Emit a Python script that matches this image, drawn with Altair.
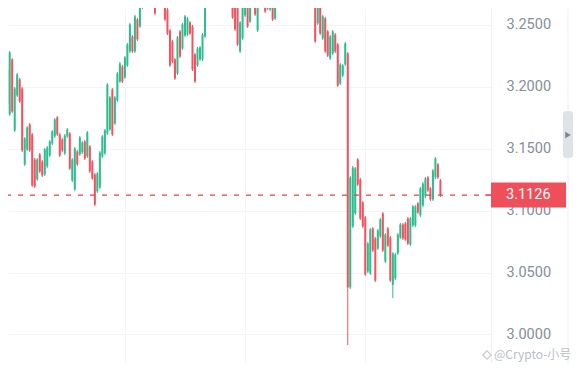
import altair as alt
import pandas as pd

# ---- candle data ----
highs = [3.2258, 3.2153, 3.2290, 3.2233, 3.1999, 3.2112, 3.2072, 3.1999, 3.1595, 3.1684,
         3.1708, 3.1627, 3.1425, 3.1425, 3.1466, 3.1409, 3.1506, 3.1522, 3.1571, 3.1652,
         3.1749, 3.1765, 3.1627, 3.1587, 3.1619, 3.1668, 3.1635, 3.1425, 3.1514, 3.1490,
         3.1603, 3.1563, 3.1571, 3.1644, 3.1530, 3.1409, 3.1304, 3.1312, 3.1482, 3.1611,
         3.1660, 3.2031, 3.1926, 3.1991, 3.1926, 3.2120, 3.2201, 3.2177, 3.2250, 3.2355,
         3.2516, 3.2419, 3.2581, 3.2557, 3.2678, 3.2767, 3.2880, 3.2920, 3.2890, 3.2840,
         3.2800, 3.2790, 3.2810, 3.2790, 3.2770, 3.2637, 3.2468, 3.2379, 3.2233, 3.2411,
         3.2460, 3.2516, 3.2581, 3.2565, 3.2532, 3.2500, 3.2274, 3.2322, 3.2330, 3.2435,
         3.2760, 3.2840, 3.2900, 3.2850, 3.2950, 3.3000, 3.3020, 3.2980, 3.2960, 3.2930,
         3.2900, 3.2800, 3.2780, 3.2750, 3.2532, 3.2790, 3.2830, 3.2810, 3.2820, 3.2860,
         3.2830, 3.2810, 3.2860, 3.2920, 3.2810, 3.2800, 3.2810, 3.2780, 3.2790, 3.2870,
         3.2950, 3.3000, 3.3050, 3.3080, 3.3060, 3.3100, 3.3070, 3.3040, 3.3010, 3.2990,
         3.2960, 3.2930, 3.2900, 3.2880, 3.2790, 3.2760, 3.2740, 3.2581, 3.2565, 3.2460,
         3.2419, 3.2460, 3.2435, 3.2355, 3.2193, 3.2185, 3.2363, 3.2282, 3.1280, 3.1361,
         3.1353, 3.1425, 3.1264, 3.1078, 3.0957, 3.0747, 3.0860, 3.0868, 3.0787, 3.0852,
         3.0941, 3.0989, 3.0819, 3.0868, 3.0795, 3.0666, 3.0658, 3.0819, 3.0900, 3.0900,
         3.0908, 3.0949, 3.0949, 3.1046, 3.1046, 3.1070, 3.1191, 3.1231, 3.1272, 3.1280,
         3.1191, 3.1336, 3.1433, 3.1385, 3.1256]

lows = [3.1999, 3.1854, 3.1765, 3.1789, 3.1635, 3.1918, 3.1870, 3.1474, 3.1361, 3.1482,
        3.1474, 3.1191, 3.1183, 3.1240, 3.1304, 3.1272, 3.1280, 3.1345, 3.1433, 3.1530,
        3.1587, 3.1603, 3.1433, 3.1474, 3.1450, 3.1587, 3.1328, 3.1231, 3.1159, 3.1361,
        3.1442, 3.1458, 3.1409, 3.1425, 3.1304, 3.1248, 3.1037, 3.1143, 3.1175, 3.1425,
        3.1450, 3.1611, 3.1644, 3.1603, 3.1692, 3.1878, 3.2031, 3.2031, 3.2064, 3.2161,
        3.2274, 3.2274, 3.2274, 3.2371, 3.2476, 3.2629, 3.2750, 3.2780, 3.2740, 3.2654,
        3.2581, 3.2637, 3.2645, 3.2645, 3.2532, 3.2419, 3.2161, 3.2193, 3.2056, 3.2096,
        3.2233, 3.2298, 3.2403, 3.2411, 3.2419, 3.2128, 3.2031, 3.2161, 3.2209, 3.2209,
        3.2395, 3.2694, 3.2760, 3.2678, 3.2780, 3.2840, 3.2860, 3.2820, 3.2790, 3.2760,
        3.2740, 3.2548, 3.2452, 3.2330, 3.2274, 3.2379, 3.2565, 3.2476, 3.2516, 3.2670,
        3.2573, 3.2443, 3.2670, 3.2760, 3.2597, 3.2621, 3.2613, 3.2532, 3.2540, 3.2678,
        3.2770, 3.2820, 3.2870, 3.2900, 3.2880, 3.2910, 3.2890, 3.2860, 3.2830, 3.2800,
        3.2780, 3.2760, 3.2740, 3.2730, 3.2355, 3.2500, 3.2419, 3.2379, 3.2274, 3.2241,
        3.2217, 3.2258, 3.2274, 3.1999, 3.2015, 3.2080, 3.2169, 2.9914, 3.0367, 3.0860,
        3.0965, 3.1199, 3.0924, 3.0860, 3.0472, 3.0496, 3.0480, 3.0666, 3.0423, 3.0682,
        3.0779, 3.0666, 3.0577, 3.0706, 3.0423, 3.0294, 3.0440, 3.0642, 3.0771, 3.0763,
        3.0755, 3.0722, 3.0714, 3.0868, 3.0868, 3.0973, 3.0949, 3.1029, 3.1102, 3.1151,
        3.1078, 3.1078, 3.1256, 3.1256, 3.1110]

opens = [3.2246, 3.2141, 3.1777, 3.2221, 3.1647, 3.1930, 3.2060, 3.1987, 3.1373, 3.1494,
         3.1696, 3.1615, 3.1413, 3.1252, 3.1454, 3.1397, 3.1292, 3.1357, 3.1445, 3.1542,
         3.1599, 3.1753, 3.1615, 3.1575, 3.1462, 3.1599, 3.1623, 3.1243, 3.1171, 3.1478,
         3.1454, 3.1470, 3.1559, 3.1437, 3.1518, 3.1397, 3.1292, 3.1155, 3.1187, 3.1437,
         3.1462, 3.1623, 3.1656, 3.1979, 3.1704, 3.1890, 3.2043, 3.2165, 3.2076, 3.2173,
         3.2286, 3.2407, 3.2286, 3.2545, 3.2488, 3.2641, 3.2762, 3.2908, 3.2878, 3.2828,
         3.2788, 3.2649, 3.2798, 3.2778, 3.2758, 3.2625, 3.2456, 3.2367, 3.2221, 3.2108,
         3.2448, 3.2310, 3.2415, 3.2423, 3.2520, 3.2488, 3.2262, 3.2173, 3.2221, 3.2221,
         3.2407, 3.2706, 3.2888, 3.2690, 3.2792, 3.2852, 3.3008, 3.2968, 3.2802, 3.2918,
         3.2888, 3.2788, 3.2768, 3.2738, 3.2286, 3.2391, 3.2577, 3.2798, 3.2528, 3.2682,
         3.2818, 3.2455, 3.2682, 3.2772, 3.2798, 3.2788, 3.2625, 3.2768, 3.2552, 3.2690,
         3.2782, 3.2832, 3.2882, 3.3068, 3.2892, 3.2922, 3.3058, 3.3028, 3.2998, 3.2812,
         3.2948, 3.2918, 3.2888, 3.2742, 3.2778, 3.2512, 3.2728, 3.2391, 3.2553, 3.2448,
         3.2229, 3.2270, 3.2423, 3.2343, 3.2027, 3.2092, 3.2181, 3.2270, 3.0379, 3.0872,
         3.0977, 3.1413, 3.1252, 3.1066, 3.0945, 3.0508, 3.0492, 3.0856, 3.0775, 3.0694,
         3.0791, 3.0977, 3.0589, 3.0856, 3.0783, 3.0400, 3.0452, 3.0654, 3.0783, 3.0888,
         3.0896, 3.0937, 3.0726, 3.0880, 3.0880, 3.1058, 3.0961, 3.1041, 3.1114, 3.1268,
         3.1179, 3.1090, 3.1268, 3.1373, 3.1244]

closes = [3.2011, 3.1866, 3.2278, 3.1801, 3.1987, 3.2100, 3.1882, 3.1486, 3.1583, 3.1672,
          3.1486, 3.1203, 3.1195, 3.1413, 3.1316, 3.1284, 3.1494, 3.1510, 3.1559, 3.1640,
          3.1737, 3.1615, 3.1445, 3.1486, 3.1607, 3.1656, 3.1340, 3.1413, 3.1502, 3.1373,
          3.1591, 3.1551, 3.1421, 3.1632, 3.1316, 3.1260, 3.1049, 3.1300, 3.1470, 3.1599,
          3.1648, 3.2019, 3.1914, 3.1615, 3.1914, 3.2108, 3.2189, 3.2043, 3.2238, 3.2343,
          3.2504, 3.2286, 3.2569, 3.2383, 3.2666, 3.2755, 3.2868, 3.2792, 3.2752, 3.2666,
          3.2593, 3.2778, 3.2657, 3.2657, 3.2544, 3.2431, 3.2173, 3.2205, 3.2068, 3.2399,
          3.2245, 3.2504, 3.2569, 3.2553, 3.2431, 3.2140, 3.2043, 3.2310, 3.2318, 3.2423,
          3.2748, 3.2828, 3.2772, 3.2838, 3.2938, 3.2988, 3.2872, 3.2832, 3.2948, 3.2772,
          3.2752, 3.2560, 3.2464, 3.2342, 3.2520, 3.2778, 3.2818, 3.2488, 3.2808, 3.2848,
          3.2585, 3.2798, 3.2848, 3.2908, 3.2609, 3.2633, 3.2798, 3.2544, 3.2778, 3.2858,
          3.2938, 3.2988, 3.3038, 3.2912, 3.3048, 3.3088, 3.2902, 3.2872, 3.2842, 3.2978,
          3.2792, 3.2772, 3.2752, 3.2868, 3.2367, 3.2748, 3.2431, 3.2569, 3.2286, 3.2253,
          3.2407, 3.2448, 3.2286, 3.2011, 3.2181, 3.2173, 3.2351, 3.0380, 3.1268, 3.1349,
          3.1341, 3.1211, 3.0936, 3.0872, 3.0484, 3.0735, 3.0848, 3.0678, 3.0435, 3.0840,
          3.0929, 3.0678, 3.0807, 3.0718, 3.0435, 3.0654, 3.0646, 3.0807, 3.0888, 3.0775,
          3.0767, 3.0734, 3.0937, 3.1034, 3.1034, 3.0985, 3.1179, 3.1219, 3.1260, 3.1163,
          3.1090, 3.1324, 3.1421, 3.1268, 3.1126]

last_price = [3.1126]
y_ticks = [3.0, 3.05, 3.1, 3.15, 3.2, 3.25]
time_grid = [48, 96, 144]
watermark = ["@Crypto-小号"]

UP = "#2dbd8e"
DOWN = "#f2535f"
TAG = "#ef4f5b"
GRID = "#f3f4f6"

df = pd.DataFrame({"i": list(range(len(highs))), "open": opens, "high": highs,
                   "low": lows, "close": closes})
df["dir"] = ["up" if c >= o else "down" for o, c in zip(opens, closes)]
tag_df = pd.DataFrame({"price": last_price})
wm_df = pd.DataFrame({"wm": watermark})

xscale = alt.Scale(domain=[3.324, 192.2], nice=False, zero=False)
yscale = alt.Scale(domain=[2.9769, 3.2637], nice=False, zero=False)

xaxis = alt.Axis(values=time_grid, grid=True, gridColor=GRID, labels=False,
                 ticks=False, domain=False, title="")
yaxis = alt.Axis(orient="right", values=y_ticks, format=".4f", grid=True,
                 gridColor=GRID, ticks=False, domain=True, domainColor="#eceef1",
                 labelPadding=15, labelAlign="left", labelBaseline="middle",
                 labelFontSize=14.5, labelFont="Roboto", labelColor="#848e9c",
                 title="")

color = alt.Color("dir:N", scale=alt.Scale(domain=["up", "down"], range=[UP, DOWN]),
                  legend=None)

wicks = alt.Chart(df).mark_rule(strokeWidth=1, clip=True).encode(
    x=alt.X("i:Q", scale=xscale, axis=xaxis),
    y=alt.Y("low:Q", scale=yscale, axis=yaxis),
    y2="high:Q",
    color=color,
)

bodies = alt.Chart(df).mark_bar(size=2.0, clip=True).encode(
    x=alt.X("i:Q", scale=xscale, axis=xaxis),
    y=alt.Y("open:Q", scale=yscale, axis=yaxis),
    y2="close:Q",
    color=color,
)

price_line = alt.Chart(tag_df).mark_rule(color="#e0424e", strokeDash=[5, 7], strokeWidth=1.2).encode(
    y=alt.Y("price:Q", scale=yscale, axis=yaxis),
)

price_stub = alt.Chart(tag_df).mark_rule(color=TAG, strokeWidth=1.2, clip=False).encode(
    y=alt.Y("price:Q", scale=yscale, axis=yaxis),
    x=alt.value(477), x2=alt.value(483),
)

tag_box = alt.Chart(tag_df).mark_tick(orient="horizontal", size=75, thickness=25,
                                      color=TAG, opacity=1, clip=False).encode(
    y=alt.Y("price:Q", scale=yscale, axis=yaxis),
    x=alt.value(520.5),
)

tag_text = alt.Chart(tag_df).mark_text(align="left", baseline="middle", color="white",
                                       fontSize=14.5, font="Roboto", clip=False).encode(
    y=alt.Y("price:Q", scale=yscale, axis=yaxis),
    x=alt.value(498),
    text=alt.Text("price:Q", format=".4f"),
)

sep_line = alt.Chart(tag_df).mark_rule(color="#eceef1", strokeWidth=1).encode(
    x=alt.value(560), y=alt.value(0), y2=alt.value(355),
)

handle = alt.Chart(tag_df).mark_rect(color="#dfe2e7", cornerRadius=3).encode(
    x=alt.value(555), x2=alt.value(565), y=alt.value(103), y2=alt.value(150),
)

handle_arrow = alt.Chart(tag_df).mark_point(shape="triangle-right", filled=True, size=40,
                                            color="#7d8593", opacity=1).encode(
    x=alt.value(560), y=alt.value(127),
)

wm_icon = alt.Chart(wm_df).mark_point(shape="diamond", size=70, color="#c8ccd3",
                                      strokeWidth=1.2, filled=False, opacity=1).encode(
    x=alt.value(479), y=alt.value(347),
)

wm_text = alt.Chart(wm_df).mark_text(align="left", baseline="middle", fontSize=12,
                                     font="Noto Sans CJK SC", color="#b9bec7").encode(
    x=alt.value(486), y=alt.value(347), text="wm:N",
)

chart = alt.layer(
    wicks, bodies, price_line, price_stub, sep_line, handle, handle_arrow,
    tag_box, tag_text, wm_icon, wm_text,
).properties(
    width=483, height=355,
    autosize=alt.AutoSizeParams(type="none"),
    padding={"left": 0, "top": 0, "right": 85, "bottom": 0},
).configure_view(strokeWidth=0)

chart.save("out.html", embed_options={"renderer": "svg", "actions": False})
